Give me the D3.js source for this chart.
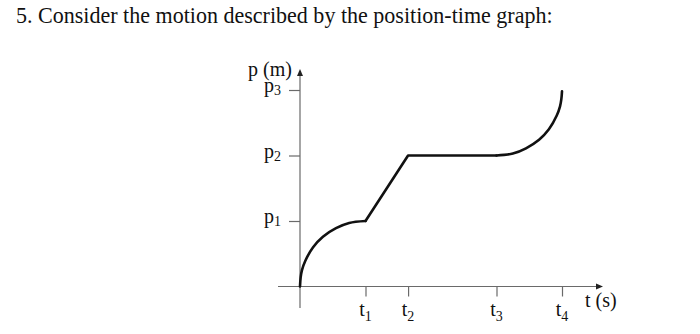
<!DOCTYPE html>
<html>
<head>
<meta charset="utf-8">
<script src="https://cdn.jsdelivr.net/npm/d3@7"></script>
<style>
  body { margin: 0; background: #fff; }
</style>
</head>
<body>
<svg id="chart"></svg>
<script>
// Tick positions (time / position units)
const timeTicks = [1, 1.65, 3, 4];
const timeTickNames = ["1", "2", "3", "4"];
const posTicks = [1, 2, 3];
const posTickNames = ["1", "2", "3"];

// p(t) pieces
const risePoints = [[0, 0], [0.01, 0.14], [0.03, 0.25], [0.08, 0.39], [0.2, 0.6], [0.35, 0.76], [0.55, 0.89], [0.75, 0.97], [1, 1]];
const rampPoints = [[1, 1], [1.65, 2], [3, 2]];
const finalPoints = [[3, 2], [3.25, 2.03], [3.45, 2.11], [3.65, 2.24], [3.8, 2.4], [3.92, 2.61], [3.97, 2.75], [3.99, 2.86], [4, 2.98]];

const width = 700, height = 334;
const serif = "'Liberation Serif', 'Times New Roman', serif";

const svg = d3.select("#chart")
    .attr("width", width)
    .attr("height", height);

// same scale on both axes
const x = d3.scaleLinear().domain([0, 4]).range([300, 562]);
const y = d3.scaleLinear().domain([0, 3]).range([286.5, 90]);

const axisColour = "#6a6a6a";

// title, fitted to the width it has in the picture
const title = svg.append("text")
    .attr("x", 16)
    .attr("y", 23)
    .attr("font-family", serif)
    .attr("fill", "#111")
    .style("font-size", "20px")
    .text("5. Consider the motion described by the position-time graph:");
const titleW = title.node().getComputedTextLength();
title.style("font-size", (20 * 537 / titleW) + "px");

// axis lines
svg.append("line")
    .attr("x1", 278).attr("x2", 600)
    .attr("y1", y(0)).attr("y2", y(0))
    .attr("stroke", axisColour).attr("stroke-width", 1.2);
svg.append("line")
    .attr("x1", x(0)).attr("x2", x(0))
    .attr("y1", 308).attr("y2", 73)
    .attr("stroke", axisColour).attr("stroke-width", 1.2);

// arrow heads
svg.append("path")
    .attr("d", `M603,${y(0)} l-7,-3 l0,6 z`)
    .attr("fill", "#222");
svg.append("path")
    .attr("d", `M${x(0)},69 l-3,7 l6,0 z`)
    .attr("fill", "#222");

// tick marks
const xAxis = svg.append("g")
    .attr("transform", `translate(0,${y(0)})`)
    .call(d3.axisBottom(x).tickValues(timeTicks).tickSize(10).tickFormat(""));
const yAxis = svg.append("g")
    .attr("transform", `translate(${x(0)},0)`)
    .call(d3.axisLeft(y).tickValues(posTicks).tickSize(11).tickFormat(""));
[xAxis, yAxis].forEach(a => {
    a.select(".domain").remove();
    a.selectAll(".tick line").attr("stroke", axisColour).attr("stroke-width", 1.2);
});

// time tick labels
const tLabels = svg.selectAll(".t-label")
    .data(timeTicks)
    .join("text")
    .attr("class", "t-label")
    .attr("x", d => x(d))
    .attr("y", 316)
    .attr("text-anchor", "middle")
    .attr("font-family", serif)
    .attr("fill", "#111")
    .style("font-size", "20px");
tLabels.append("tspan").text("t");
tLabels.append("tspan")
    .attr("dy", 5)
    .style("font-size", "14px")
    .text((d, i) => timeTickNames[i]);

// position tick labels
const pLabels = svg.selectAll(".p-label")
    .data(posTicks)
    .join("text")
    .attr("class", "p-label")
    .attr("x", 281)
    .attr("y", d => y(d) + 2)
    .attr("text-anchor", "end")
    .attr("font-family", serif)
    .attr("fill", "#111")
    .style("font-size", "20px");
pLabels.append("tspan").text("p");
pLabels.append("tspan")
    .attr("dy", 3)
    .style("font-size", "14px")
    .text((d, i) => posTickNames[i]);

// axis titles
svg.append("text")
    .attr("x", 292).attr("y", 76)
    .attr("text-anchor", "end")
    .attr("font-family", serif)
    .attr("fill", "#111")
    .style("font-size", "20px")
    .text("p (m)");
svg.append("text")
    .attr("x", 585).attr("y", 307)
    .attr("font-family", serif)
    .attr("fill", "#111")
    .style("font-size", "20px")
    .text("t (s)");

// the p(t) curve
const curved = d3.line()
    .x(d => x(d[0])).y(d => y(d[1]))
    .curve(d3.curveCatmullRom.alpha(0.5));
const straight = d3.line()
    .x(d => x(d[0])).y(d => y(d[1]));

[[risePoints, curved], [rampPoints, straight], [finalPoints, curved]].forEach(([pts, gen]) => {
    svg.append("path")
        .attr("d", gen(pts))
        .attr("fill", "none")
        .attr("stroke", "#111")
        .attr("stroke-width", 2.6)
        .attr("stroke-linecap", "round")
        .attr("stroke-linejoin", "round");
});
</script>
</body>
</html>
